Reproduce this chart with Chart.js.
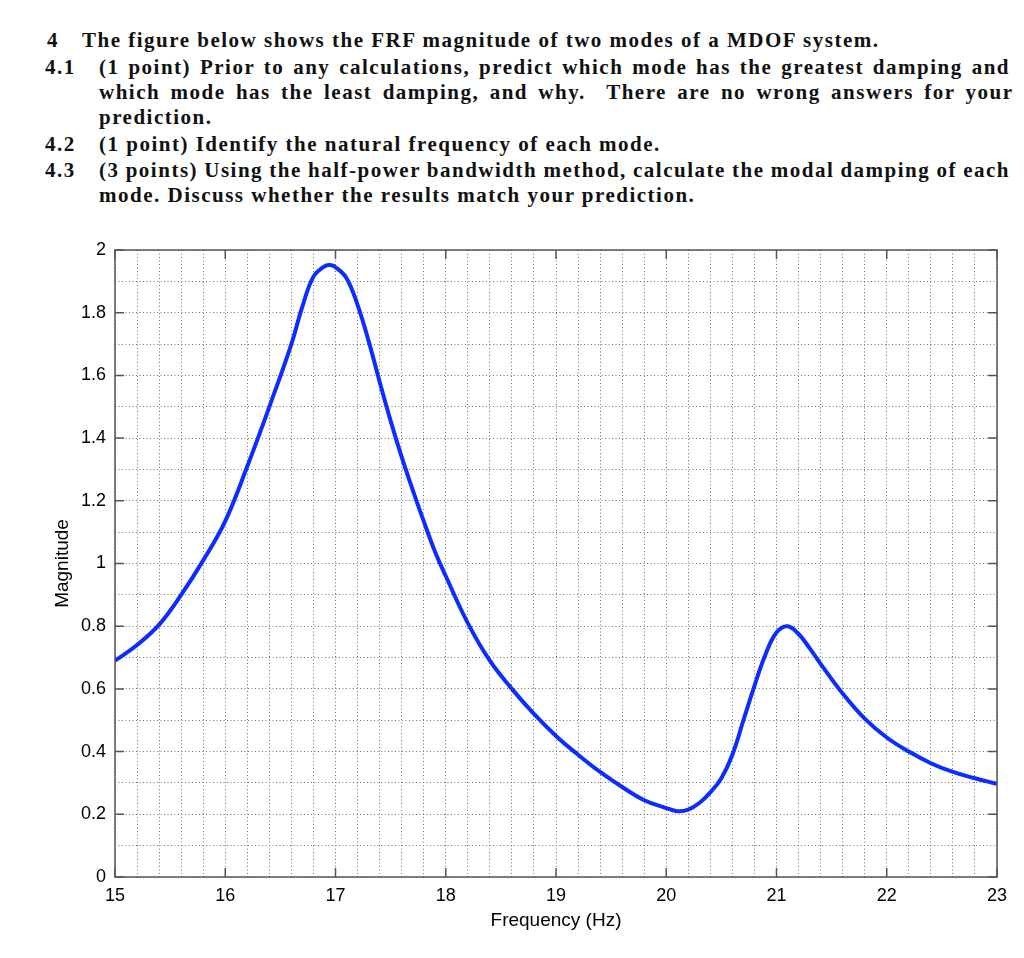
<!DOCTYPE html>
<html lang="en">
  <head>
    <meta charset="UTF-8" />
    <title>FRF magnitude</title>
    <style>
      body {
        margin: 0;
        width: 1024px;
        height: 958px;
        background: #fff;
        position: relative;
        overflow: hidden;
      }
      .q {
        position: absolute;
        font-family: "Liberation Serif", serif;
        font-weight: bold;
        font-size: 21px;
        line-height: 24px;
        letter-spacing: 1.5px;
        color: #111;
        white-space: nowrap;
      }
      #wrap {
        position: absolute;
        left: 0;
        top: 220px;
        width: 1024px;
        height: 738px;
      }
    </style>
  </head>
  <body>
    <div class="q" style="left:47px;top:28px">4</div>
    <div class="q" style="left:82px;top:28px">The figure below shows the FRF magnitude of two modes of a MDOF system.</div>
    <div class="q" style="left:45px;top:55px">4.1</div>
    <div class="q just" style="left:99px;top:55px">(1 point) Prior to any calculations, predict which mode has the greatest damping and</div>
    <div class="q just" style="left:99px;top:80px">which mode has the least damping, and why.&nbsp; There are no wrong answers for your</div>
    <div class="q" style="left:99px;top:105px">prediction.</div>
    <div class="q" style="left:45px;top:132px">4.2</div>
    <div class="q" style="left:99px;top:132px">(1 point) Identify the natural frequency of each mode.</div>
    <div class="q" style="left:45px;top:158px">4.3</div>
    <div class="q just" style="left:99px;top:158px">(3 points) Using the half-power bandwidth method, calculate the modal damping of each</div>
    <div class="q" style="left:99px;top:183px">mode. Discuss whether the results match your prediction.</div>

    <div id="wrap"><canvas id="frf"></canvas></div>

    <script src="https://cdn.jsdelivr.net/npm/chart.js@4.4.1/dist/chart.umd.min.js"></script>
    <script>
      // stretch the full lines to the right margin (x = 1010)
      document.querySelectorAll(".just").forEach((el) => {
        const gaps = el.textContent.split(" ").length - 1;
        const w = el.getBoundingClientRect().width;
        el.style.wordSpacing = (911 - w) / gaps + "px";
      });

      // values
      const freq = [
        15.0, 15.2, 15.4, 15.6, 15.8, 16.0, 16.2, 16.4, 16.6, 16.7, 16.8, 16.9,
        16.95, 17.0, 17.1, 17.2, 17.3, 17.4, 17.5, 17.6, 17.7, 17.8, 17.9, 18.0,
        18.2, 18.4, 18.6, 18.8, 19.0, 19.2, 19.4, 19.6, 19.8, 20.0, 20.1, 20.2,
        20.3, 20.4, 20.5, 20.6, 20.7, 20.8, 20.9, 21.0, 21.1, 21.2, 21.3, 21.4,
        21.6, 21.8, 22.0, 22.2, 22.4, 22.6, 22.8, 23.0,
      ];
      const magnitude = [
        0.69, 0.74, 0.805, 0.9, 1.01, 1.135, 1.31, 1.5, 1.7, 1.82, 1.915, 1.948,
        1.952, 1.945, 1.91, 1.825, 1.71, 1.58, 1.455, 1.34, 1.235, 1.135, 1.04, 0.96,
        0.81, 0.69, 0.6, 0.52, 0.45, 0.39, 0.335, 0.287, 0.245, 0.22, 0.21, 0.215,
        0.236, 0.27, 0.315, 0.39, 0.5, 0.61, 0.71, 0.78, 0.8, 0.775, 0.73, 0.68,
        0.585, 0.505, 0.445, 0.4, 0.363, 0.335, 0.315, 0.297,
      ];
      const xTickLabels = ["15", "16", "17", "18", "19", "20", "21", "22", "23"];
      const yTickLabels = ["0", "0.2", "0.4", "0.6", "0.8", "1", "1.2", "1.4", "1.6", "1.8", "2"];

      const axisFont = { family: "'Liberation Sans', Arial, sans-serif", size: 18 };
      const titleFont = { family: "'Liberation Sans', Arial, sans-serif", size: 19 };

      function findLabel(list, v) {
        const hit = list.find((s) => Math.abs(parseFloat(s) - v) < 1e-6);
        return hit === undefined ? "" : hit;
      }

      // box around the axes + inward tick marks (matlab style)
      const frame = {
        id: "frame",
        afterDraw(chart) {
          const { ctx, chartArea: a, scales } = chart;
          ctx.save();
          ctx.strokeStyle = "#555";
          ctx.lineWidth = 1.5;
          ctx.strokeRect(a.left, a.top, a.right - a.left, a.bottom - a.top);
          ctx.beginPath();
          xTickLabels.forEach((s) => {
            const px = scales.x.getPixelForValue(parseFloat(s));
            ctx.moveTo(px, a.bottom);
            ctx.lineTo(px, a.bottom - 9);
            ctx.moveTo(px, a.top);
            ctx.lineTo(px, a.top + 9);
          });
          yTickLabels.forEach((s) => {
            const py = scales.y.getPixelForValue(parseFloat(s));
            ctx.moveTo(a.left, py);
            ctx.lineTo(a.left + 9, py);
            ctx.moveTo(a.right, py);
            ctx.lineTo(a.right - 9, py);
          });
          ctx.stroke();
          ctx.restore();
        },
      };

      new Chart(document.getElementById("frf"), {
        type: "line",
        data: {
          datasets: [
            {
              data: freq.map((f, i) => ({ x: f, y: magnitude[i] })),
              borderColor: "#0b2dff",
              borderWidth: 4,
              pointRadius: 0,
              tension: 0.4,
              fill: false,
            },
          ],
        },
        options: {
          responsive: true,
          maintainAspectRatio: false,
          animation: false,
          layout: { padding: { left: 0, right: 27, top: 30, bottom: 0 } },
          plugins: { legend: { display: false }, tooltip: { enabled: false } },
          scales: {
            x: {
              type: "linear",
              min: 15,
              max: 23,
              ticks: {
                stepSize: 0.2,
                autoSkip: false,
                maxRotation: 0,
                padding: 8,
                color: "#000",
                font: axisFont,
                callback: (v) => findLabel(xTickLabels, v),
              },
              grid: { color: "#707070", lineWidth: 1, drawTicks: false },
              border: { display: false, dash: [1, 2.5] },
              title: {
                display: true,
                text: "Frequency (Hz)",
                color: "#000",
                font: titleFont,
                padding: { top: 0, bottom: 26 },
              },
              afterFit(s) {
                s.height = 81;
              },
            },
            y: {
              min: 0,
              max: 2,
              ticks: {
                stepSize: 0.1,
                autoSkip: false,
                padding: 9,
                color: "#000",
                font: axisFont,
                callback: (v) => findLabel(yTickLabels, v),
              },
              grid: { color: "#707070", lineWidth: 1, drawTicks: false },
              border: { display: false, dash: [1, 2.5] },
              title: {
                display: true,
                text: "Magnitude",
                color: "#000",
                font: titleFont,
                padding: { top: 51, bottom: 0 },
              },
              afterFit(s) {
                s.width = 115;
              },
            },
          },
        },
        plugins: [frame],
      });
    </script>
  </body>
</html>
